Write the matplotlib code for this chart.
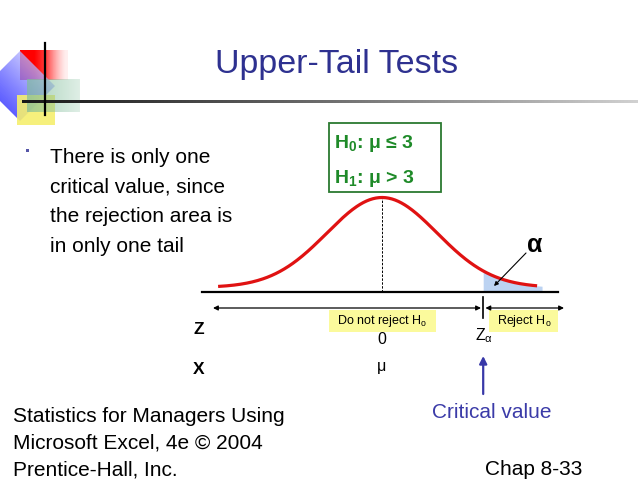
import numpy as np
import matplotlib.pyplot as plt
from matplotlib.patches import Rectangle, Polygon

plt.rcParams['font.family'] = ['Liberation Sans', 'DejaVu Sans']
plt.rcParams['mathtext.fontset'] = 'custom'
plt.rcParams['mathtext.rm'] = 'Liberation Sans'
plt.rcParams['mathtext.it'] = 'Liberation Sans:italic'
plt.rcParams['mathtext.bf'] = 'Liberation Sans:bold'

# slide content
title = "Upper-Tail Tests"
bullet_lines = ["There is only one", "critical value, since",
                "the rejection area is", "in only one tail"]
hyp_lines = [r"H$_\mathbf{0}$: μ ≤ 3", r"H$_\mathbf{1}$: μ > 3"]
footer_lines = ["Statistics for Managers Using",
                "Microsoft Excel, 4e © 2004", "Prentice-Hall, Inc."]
chap = "Chap 8-33"
region_labels = [r"Do not reject H$_\mathrm{o}$", r"Reject H$_\mathrm{o}$"]
scale_names = ["Z", "X"]
scale_center = ["0", "μ"]
crit_label = r"Z$_\mathrm{α}$"

# curve (standard normal, z units)
z_lo, z_hi = -2.98, 2.82
z_crit = 1.84
z_shade_end = 2.91

W, H = 638, 479
fig = plt.figure(figsize=(W / 100, H / 100), dpi=100)
bg = fig.add_axes([0, 0, 1, 1])
bg.set_xlim(0, W)
bg.set_ylim(H, 0)
bg.axis('off')

# ---- logo in the corner ----
grad = np.linspace(0, 1, 64)[None, :]
red_img = np.ones((1, 64, 4))
fade = np.clip((grad - 0.55) * 2.0, 0, 0.8)
red_img[..., 0] = 1.0
red_img[..., 1] = fade
red_img[..., 2] = fade
red_img[..., 3] = np.clip(1.3 - grad, 0.2, 1)
bg.imshow(red_img, extent=(20, 68, 80, 50), aspect='auto', zorder=1)

yy, xx = np.mgrid[0:64, 0:64] / 63.0
blue_img = np.ones((64, 64, 4))
t = np.clip((xx + (1 - yy)) / 2, 0, 1)  # 0 at lower-left
blue_img[..., 0] = 0.2 + 0.8 * t ** 1.6
blue_img[..., 1] = 0.2 + 0.8 * t ** 1.6
blue_img[..., 2] = 1.0
blue_img[..., 3] = 0.95 - 0.25 * t
im = bg.imshow(blue_img, extent=(-15, 55, 122, 50), aspect='auto', zorder=2)
diamond = Polygon([(20, 51), (55, 86), (20, 121), (-15, 86)], closed=True,
                  transform=bg.transData, facecolor='none', edgecolor='none')
bg.add_patch(diamond)
im.set_clip_path(diamond)

bg.add_patch(Rectangle((17, 95), 38, 30, facecolor='#f5ef6e', alpha=0.9,
                       edgecolor='none', zorder=3))
green_img = np.ones((1, 64, 4))
green_img[..., 0] = 0.50
green_img[..., 1] = 0.74
green_img[..., 2] = 0.60
green_img[..., 3] = np.clip(0.7 - 0.45 * grad, 0.2, 1)
bg.imshow(green_img, extent=(27, 80, 112, 79), aspect='auto', zorder=4)
bg.plot([45, 45], [43, 115], color='black', lw=1.6, zorder=6)

line_img = np.ones((1, 256, 3))
shade = 0.1 + 0.72 * np.linspace(0, 1, 256) ** 1.1
line_img[..., 0] = shade
line_img[..., 1] = shade
line_img[..., 2] = shade
bg.imshow(line_img, extent=(22, W, 102.5, 99.5), aspect='auto', zorder=5)
bg.set_xlim(0, W)
bg.set_ylim(H, 0)

# ---- title, bullet text, footer ----
bg.text(337, 73, title, fontsize=24.5, color='#2e3190', ha='center', va='baseline')

bg.add_patch(Rectangle((25.5, 148.5), 3, 3, facecolor='#5656a8', edgecolor='none'))
for i, line in enumerate(bullet_lines):
    bg.text(50, 163 + i * 29.5, line, fontsize=15, color='black', va='baseline')

for i, line in enumerate(footer_lines):
    bg.text(13, 422 + i * 26.5, line, fontsize=15, color='black', va='baseline')
bg.text(582, 475, chap, fontsize=15, color='black', ha='right', va='baseline')

# hypothesis box
bg.add_patch(Rectangle((329, 123), 112, 69, facecolor='white',
                       edgecolor='#2b7a30', lw=1.3, zorder=3))
for i, line in enumerate(hyp_lines):
    bg.text(334, 148 + i * 35, line, fontsize=14, color='#1e8a28',
            fontweight='bold', va='baseline', zorder=4)

# ---- normal curve panel (z units) ----
cx, ppz = 382.0, 55.0        # pixel of z=0, pixels per z unit
base_px = 287.5              # pixel row of curve asymptote
k = (1 / np.sqrt(2 * np.pi)) / 90.0  # density per pixel
L, R, T, B = 185, 575, 180, 400
ax = fig.add_axes([L / W, 1 - B / H, (R - L) / W, (B - T) / H])
ax.set_xlim((L - cx) / ppz, (R - cx) / ppz)
ax.set_ylim(-(B - base_px) * k, (base_px - T) * k)
ax.axis('off')
ax.patch.set_alpha(0)


def py(p):
    return (base_px - p) * k


def pz(p):
    return (p - cx) / ppz


def pdf(z):
    return np.exp(-z ** 2 / 2) / np.sqrt(2 * np.pi)


zs = np.linspace(z_lo, z_hi, 300)
zsh = np.linspace(z_crit, z_shade_end, 60)
ax.fill_between(zsh, py(291), pdf(zsh), color='#bcd3f2', lw=0, zorder=1)
ax.plot(zs, pdf(zs), color='#e01212', lw=2.3, solid_capstyle='butt', zorder=3)
ax.plot([0, 0], [py(292), pdf(0)], color='black', lw=0.7,
        linestyle=(0, (2.5, 1.5)), zorder=2)
ax.plot([pz(202), pz(558)], [py(292), py(292)], color='black', lw=1.6, zorder=2)

# region arrows and critical tick
arr = dict(arrowstyle='<|-|>', mutation_scale=7, lw=0.9, color='black',
           shrinkA=0, shrinkB=0)
ax.annotate('', xy=(pz(213), py(308)), xytext=(z_crit - 0.04, py(308)), arrowprops=arr)
ax.annotate('', xy=(z_crit + 0.04, py(308)), xytext=(pz(564), py(308)), arrowprops=arr)
ax.plot([z_crit, z_crit], [py(297), py(318)], color='black', lw=1.2)

ax.add_patch(Rectangle((pz(329), py(332)), pz(436) - pz(329), py(310) - py(332),
                       facecolor='#fbfa9c', edgecolor='none', zorder=2))
ax.add_patch(Rectangle((pz(489), py(332)), pz(558) - pz(489), py(310) - py(332),
                       facecolor='#fbfa9c', edgecolor='none', zorder=2))
ax.text(0, py(321), region_labels[0], fontsize=9, ha='center', va='center', zorder=3)
ax.text(pz(524), py(321), region_labels[1], fontsize=9, ha='center', va='center', zorder=3)

# scale labels
bg.text(199, 330, scale_names[0], fontsize=12.5, fontweight='bold', ha='center', va='center')
bg.text(199, 369, scale_names[1], fontsize=12.5, fontweight='bold', ha='center', va='center')
ax.text(0, py(339), scale_center[0], fontsize=11.5, ha='center', va='center')
ax.text(0, py(366), scale_center[1], fontsize=11.5, ha='center', va='center')
ax.text(z_crit + 0.02, py(336), crit_label, fontsize=11.5, ha='center', va='center')

# alpha label with pointer
ax.text(pz(535), py(245), "α", fontsize=18, fontweight='bold', ha='center', va='center')
ax.annotate('', xy=(pz(494), py(286)), xytext=(pz(526), py(253)),
            arrowprops=dict(arrowstyle='-|>', mutation_scale=6, lw=0.8,
                            color='black', shrinkA=0, shrinkB=0))

# critical value arrow
ax.annotate('', xy=(z_crit, py(356)), xytext=(z_crit, py(394)),
            arrowprops=dict(arrowstyle='-|>', mutation_scale=11, lw=1.6,
                            color='#3838a8', shrinkA=0, shrinkB=0))
bg.text(492, 418, "Critical value", fontsize=15, color='#3b3ba8',
        ha='center', va='baseline')

fig.savefig('out.png', dpi=100)
